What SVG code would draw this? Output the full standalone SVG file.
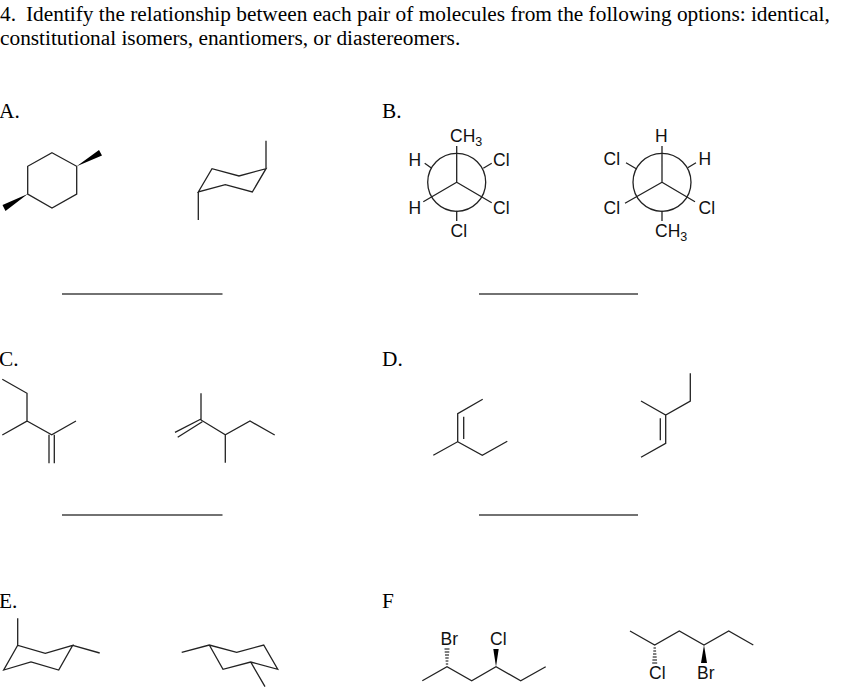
<svg xmlns="http://www.w3.org/2000/svg" width="844" height="694" viewBox="0 0 844 694">
<defs><style>
.t{font-family:"Liberation Serif",serif;font-size:21.33px;fill:#000}
.a{font-family:"Liberation Sans",sans-serif;font-size:17.5px;fill:#111}
.s{font-size:12.5px}
.b{fill:none;stroke:#222;stroke-width:1.3;stroke-linejoin:miter}
.k{fill:#000;stroke:none}
.u{stroke:#444;stroke-width:1.3;fill:none}
</style></defs>
<rect width="844" height="694" fill="#fff"/>
<g id="question">
<text class="t" x="0" y="20.5">4.</text>
<text class="t" x="26" y="20.5">Identify the relationship between each pair of molecules from the following options: identical,</text>
<text class="t" x="0" y="45">constitutional isomers, enantiomers, or diastereomers.</text>
</g>
<g id="labels">
<text class="t" x="-1" y="118">A.</text><text class="t" x="382" y="118">B.</text>
<text class="t" x="-1" y="366">C.</text><text class="t" x="382" y="366">D.</text>
<text class="t" x="-1" y="608">E.</text><text class="t" x="382" y="608">F</text>
</g>
<g id="answer-lines">
<path class="u" d="M62 294H222.5M479 294H638M62 515H222.5M479 515H638"/>
</g>
<g id="connectors">
<g id="mol-a1"><path class="b" d="M52 152.7L76.7 166.3V194L52 208L27.7 194V166.3Z"/><path class="k" d="M76.7 166.3L99 150L102 155.5ZM27.7 194L5.5 211L2.5 205Z"/></g>
<g id="mol-a2"><path class="b" d="M198.3 192L212 168.7L239 176L266 168.7L252.3 192L225.3 184.7ZM266 168.7V140.7M198.3 192V220"/></g>
<g id="mol-b1"><circle class="b" cx="456.7" cy="182.3" r="29"/><path class="b" d="M456.7 182.3V146M456.7 182.3L423.3 201.7M456.7 182.3L491.7 202.7M431.7 168.3L424.7 163.3M483.3 168.3L491.7 163.3M456.7 210.7V221"/>
<text class="a" x="450" y="141.7">CH<tspan class="s" dy="4">3</tspan></text>
<text class="a" x="408.5" y="165.7">H</text><text class="a" x="493" y="165.7">Cl</text>
<text class="a" x="408.5" y="214">H</text><text class="a" x="493" y="214">Cl</text>
<text class="a" x="450.5" y="236.7">Cl</text></g>
<g id="mol-b2"><circle class="b" cx="662" cy="182.3" r="29"/><path class="b" d="M662 182.3V146M662 182.3L625 203.3M662 182.3L695 201.7M636.7 169L626 162.7M687.7 167.7L696 162.7M662 210.7V221"/>
<text class="a" x="655" y="141.7">H</text>
<text class="a" x="603.5" y="165">Cl</text><text class="a" x="698.5" y="165">H</text>
<text class="a" x="603.5" y="214">Cl</text><text class="a" x="698.5" y="214">Cl</text>
<text class="a" x="655" y="236.7">CH<tspan class="s" dy="4">3</tspan></text></g>
<g id="mol-c1"><path class="b" d="M2.3 379.3L27 393.3V421L2.3 435M27 421L51.7 434.7L76 421M49 434.7V463.3M54.3 434.7V463.3"/></g>
<g id="mol-c2"><path class="b" d="M201 393.3V420L225.3 434.7L250 421L274.7 435M225.3 434.7V462.7M201 419L175 432.3M202.3 421.7L177.7 437.3"/></g>
<g id="mol-d1"><path class="b" d="M482.7 399.3L457.7 413.7V441.7L433.3 455.3M457.7 441.7L482.3 455.3L507.3 441.3M463.7 416.7V439"/></g>
<g id="mol-d2"><path class="b" d="M690.3 373.3V401L665.7 415L641 401M665.7 415V443.3L641 457.3M660.3 418.3V440.3"/></g>
<g id="mol-e1"><path class="b" d="M17.7 618.3V645.3L45.3 653.3L72.7 645.3L58.7 670L31 662L3.7 670L17.7 645.3M72.7 645.3L99.7 653"/></g>
<g id="mol-e2"><path class="b" d="M181.7 652.3L209.3 645L236.7 652.3L263.7 645L277.7 669.3L250.7 662L223 669.3L209.3 645M250.7 662L265 686.7"/></g>
<g id="mol-f1"><path class="b" d="M422.3 680.7L447 666.7L471.7 680.7L496 666.7L520.7 680.7L545.7 666.7"/>
<path class="k" d="M496 666.7L493.3 649H498.7Z"/>
<path d="M445.8 664H448.2M445.6 661H448.4M445.3 658H448.7M445 655H449M444.7 652H449.3M444.5 649H449.5" stroke="#000" stroke-width="1" fill="none"/>
<text class="a" x="440.5" y="645">Br</text><text class="a" x="490" y="645">Cl</text></g>
<g id="mol-f2"><path class="b" d="M630 631L654.7 645L679.3 631L704 645L728.7 631L753.3 645"/>
<path class="k" d="M704 645L701 663H707Z"/>
<path d="M653.5 648H655.9M653.3 651H656.1M653 654H656.4M652.7 657H656.7M652.4 660H657M652.2 663H657.2" stroke="#000" stroke-width="1" fill="none"/>
<text class="a" x="649" y="679.3">Cl</text><text class="a" x="697" y="679.3">Br</text></g>
</g>
</svg>
